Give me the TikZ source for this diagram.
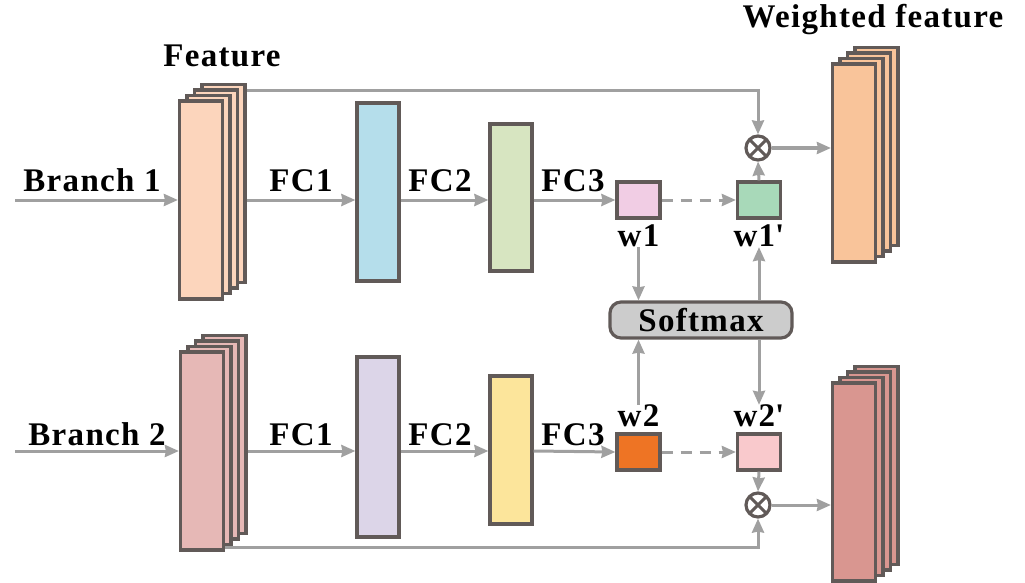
\documentclass[tikz,border=0pt]{standalone}
\usepackage{fontspec}
\setmainfont{Liberation Serif}[LetterSpace=4]
\newfontfamily\plainq{Liberation Serif}[Ligatures=TeXOff]
\usetikzlibrary{arrows.meta, positioning, shapes.geometric}

\definecolor{linegray}{HTML}{A0A0A0}
\definecolor{edgegray}{HTML}{615A58}
\definecolor{featA}{HTML}{FCD5BC}
\definecolor{featB}{HTML}{E6B8B6}
\definecolor{outA}{HTML}{F9C49A}
\definecolor{outB}{HTML}{D99690}
\definecolor{fconeA}{HTML}{B5DEEB}
\definecolor{fctwoA}{HTML}{D7E5C1}
\definecolor{fconeB}{HTML}{DCD5E8}
\definecolor{fctwoB}{HTML}{FCE59B}
\definecolor{wA}{HTML}{F1CDE4}
\definecolor{wAp}{HTML}{A8D9B9}
\definecolor{wB}{HTML}{EE7424}
\definecolor{wBp}{HTML}{F9C9CC}
\definecolor{smax}{HTML}{CCCCCC}

\newcommand{\qt}{{\plainq\bfseries '}}

\tikzset{
    lbl/.style={font=\fontsize{33}{35}\selectfont\bfseries, inner sep=0pt},
    layer/.style={draw=edgegray, line width=3.2pt, minimum width=43pt, minimum height=198pt, inner sep=0pt},
    fcbox/.style={draw=edgegray, line width=3.2pt, minimum width=42pt, inner sep=0pt},
    wbox/.style={draw=edgegray, line width=3.2pt, minimum width=43pt, minimum height=36pt, inner sep=0pt},
    link/.style={draw=linegray, line width=3pt},
    arr/.style={link, -{Stealth[length=14pt, width=12pt, inset=1pt]}},
    dsh/.style={arr, dash pattern=on 11pt off 8pt},
    otimes/.style={circle, draw=edgegray, line width=3.2pt, minimum size=24pt, inner sep=0pt,
        path picture={\draw[edgegray, line width=3pt]
            (path picture bounding box.north west) -- (path picture bounding box.south east)
            (path picture bounding box.north east) -- (path picture bounding box.south west);}}
}

\begin{document}
\begin{tikzpicture}[x=1pt, y=-1pt]
    \useasboundingbox (0,0) rectangle (1025,583);

    % Stapel der Merkmalskarten (hinten zuerst)
    \foreach \nm/\cx/\cy/\col in {fa/201/200/featA, fb/202/451/featB, oa/854/163/outA, ob/854/482/outB} {
        \foreach \k in {3,2,1,0} {
            \node[layer, fill=\col] (\nm-\k) at ({\cx+7.5*\k},{\cy-5.5*\k}) {};
        }
    }

    % Titel
    \node[lbl] (tfeat) at (222,56) {Feature};
    \node[lbl] (tweight) at (873,20) {Weighted feature};

    % Zweig 1
    \coordinate (in1) at (15,200);
    \node[lbl, anchor=south] (br1) at (92,192) {Branch 1};
    \node[fcbox, fill=fconeA, minimum height=178pt] (fc1a) at (378,192) {};
    \node[fcbox, fill=fctwoA, minimum height=147pt] (fc2a) at (511,197.5) {};
    \node[wbox, fill=wA] (w1) at (638.5,200) {};
    \node[wbox, fill=wAp] (w1p) at (759,200) {};
    \node[lbl, below=5pt of w1] (w1l) {w1};
    \node[lbl, below=5pt of w1p] (w1pl) {w1\qt};
    \node[otimes] (mul1) at (758,148) {};

    \node[lbl, anchor=south] (fc1al) at (301,192) {FC1};
    \node[lbl, anchor=south] (fc2al) at (440,192) {FC2};
    \node[lbl, anchor=south] (fc3al) at (573,192) {FC3};

    \draw[arr] (in1) -- (fa-0.west |- in1);
    \draw[arr] (fa-3.east |- in1) -- (fc1a.west |- in1);
    \draw[arr] (fc1a.east |- in1) -- (fc2a.west |- in1);
    \draw[arr] (fc2a.east |- in1) -- (w1.west);
    \draw[dsh] (w1.east) -- (w1p.west);
    \draw[arr] (w1p.north) -- (mul1.south);
    \draw[arr] (fa-3.north east |- 0,91) -- (mul1.north |- 0,91) -- (mul1.north);
    \draw[arr] (mul1.east) -- (oa-0.west |- mul1);

    % Softmax
    \node[draw=edgegray, fill=smax, line width=3.2pt, rounded corners=11pt,
        minimum width=182pt, minimum height=36pt, lbl] (soft) at (701,320) {Softmax};
    \draw[arr] (w1l.south) -- (soft.north -| w1l);
    \draw[arr] (soft.north -| w1pl) -- (w1pl.south);

    % Zweig 2
    \coordinate (in2) at (15,451);
    \node[lbl, anchor=south] (br2) at (97,446) {Branch 2};
    \node[fcbox, fill=fconeB, minimum height=180pt] (fc1b) at (378,447) {};
    \node[fcbox, fill=fctwoB, minimum height=148pt] (fc2b) at (511,450) {};
    \node[wbox, fill=wB] (w2) at (638.5,452) {};
    \node[wbox, fill=wBp] (w2p) at (759,452) {};
    \node[lbl, above=5pt of w2] (w2l) {w2};
    \node[lbl, above=5pt of w2p] (w2pl) {w2\qt};
    \node[otimes] (mul2) at (758,505) {};

    \node[lbl, anchor=south] (fc1bl) at (301,446) {FC1};
    \node[lbl, anchor=south] (fc2bl) at (440,446) {FC2};
    \node[lbl, anchor=south] (fc3bl) at (573,446) {FC3};

    \draw[arr] (in2) -- (fb-0.west |- in2);
    \draw[arr] (fb-3.east |- in2) -- (fc1b.west |- in2);
    \draw[arr] (fc1b.east |- in2) -- (fc2b.west |- in2);
    \draw[arr] (fc2b.east |- in2) -- (w2.west);
    \draw[dsh] (w2.east) -- (w2p.west);
    \draw[arr] (w2l.north) -- (soft.south -| w2l);
    \draw[arr] (soft.south -| w2pl) -- (w2pl.north);
    \draw[arr] (w2p.south) -- (mul2.north);
    \draw[arr] (fb-0.south east |- 0,547) -- (mul2.south |- 0,547) -- (mul2.south);
    \draw[arr] (mul2.east) -- (ob-0.west |- mul2);

\end{tikzpicture}
\end{document}
